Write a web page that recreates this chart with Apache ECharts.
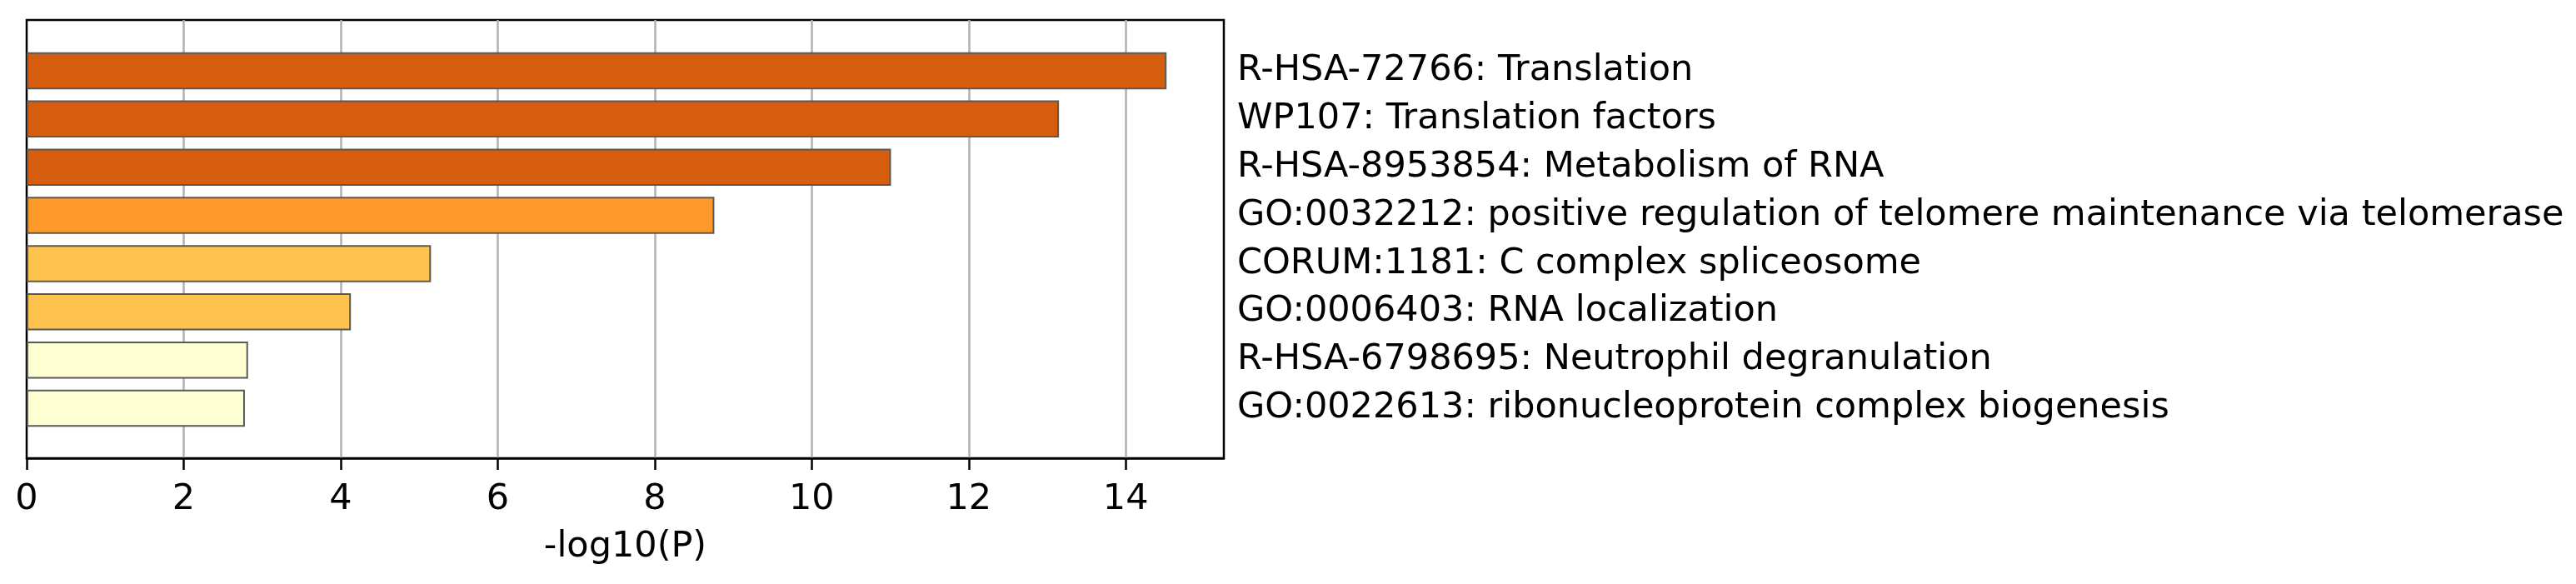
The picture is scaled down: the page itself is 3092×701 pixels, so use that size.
<!DOCTYPE html>
<html>
<head>
<meta charset="utf-8">
<title>Enrichment bar chart</title>
<script src="https://cdn.jsdelivr.net/npm/echarts@6/dist/echarts.min.js"></script>
<style>
  html, body { margin: 0; padding: 0; background: #fff; }
  #chart { width: 3092px; height: 701px; }
</style>
</head>
<body>
<div id="chart"></div>
<script>
// terms, top to bottom
var terms = [
  'R-HSA-72766: Translation',
  'WP107: Translation factors',
  'R-HSA-8953854: Metabolism of RNA',
  'GO:0032212: positive regulation of telomere maintenance via telomerase',
  'CORUM:1181: C complex spliceosome',
  'GO:0006403: RNA localization',
  'R-HSA-6798695: Neutrophil degranulation',
  'GO:0022613: ribonucleoprotein complex biogenesis'
]
// -log10(P)
var logP = [14.52, 13.15, 11.01, 8.76, 5.15, 4.13, 2.82, 2.78]
var xTicks = [0, 2, 4, 6, 8, 10, 12, 14]

// bar fill per term (YlOrBr-like bins)
var barColors = ['#d65d0e', '#d65d0e', '#d65d0e', '#fd9a2b', '#fec34f', '#fec34f', '#ffffd4', '#ffffd4']

var FONT = 'DejaVu Sans'
var FS = 43
var XMAX = 15.25

var myChart = echarts.init(document.getElementById('chart'), null, { renderer: 'canvas' })

var option = {
  animation: false,
  textStyle: { fontFamily: FONT },
  grid: [
    // outer frame with the x axis
    { left: 32, top: 24, width: 1437, height: 526, show: true, borderColor: '#000', borderWidth: 2.5, backgroundColor: 'transparent' },
    // inner band area where the bars sit
    { left: 32, top: 56, width: 1437, height: 463 }
  ],
  xAxis: [
    {
      gridIndex: 0,
      type: 'value',
      min: 0,
      max: XMAX,
      interval: 2,
      axisLine: { show: true, lineStyle: { color: '#000', width: 2.5 } },
      axisTick: { show: true, length: 14, inside: false, customValues: xTicks, lineStyle: { color: '#000', width: 2.5 } },
      axisLabel: { show: true, customValues: xTicks, fontSize: FS, color: '#000', fontFamily: FONT, margin: 28 },
      splitLine: { show: true, showMinLine: false, lineStyle: { color: '#b0b0b0', width: 2.5 } },
      name: '-log10(P)',
      nameLocation: 'middle',
      nameGap: 85,
      nameTextStyle: { fontSize: FS, color: '#000', fontFamily: FONT }
    },
    {
      gridIndex: 1,
      type: 'value',
      min: 0,
      max: XMAX,
      show: false
    }
  ],
  yAxis: [
    { gridIndex: 0, type: 'value', min: 0, max: 1, show: false },
    {
      gridIndex: 1,
      type: 'category',
      data: terms,
      inverse: true,
      position: 'right',
      axisLine: { show: false },
      axisTick: { show: false },
      splitLine: { show: false },
      axisLabel: { fontSize: FS, color: '#000', fontFamily: FONT, margin: 16, align: 'left' }
    }
  ],
  series: [
    {
      type: 'bar',
      xAxisIndex: 1,
      yAxisIndex: 1,
      barWidth: '77%',
      data: logP.map(function (v, i) {
        return { value: v, itemStyle: { color: barColors[i] } }
      }),
      itemStyle: { borderColor: '#595959', borderWidth: 2 }
    }
  ]
}

myChart.setOption(option)
</script>
</body>
</html>
